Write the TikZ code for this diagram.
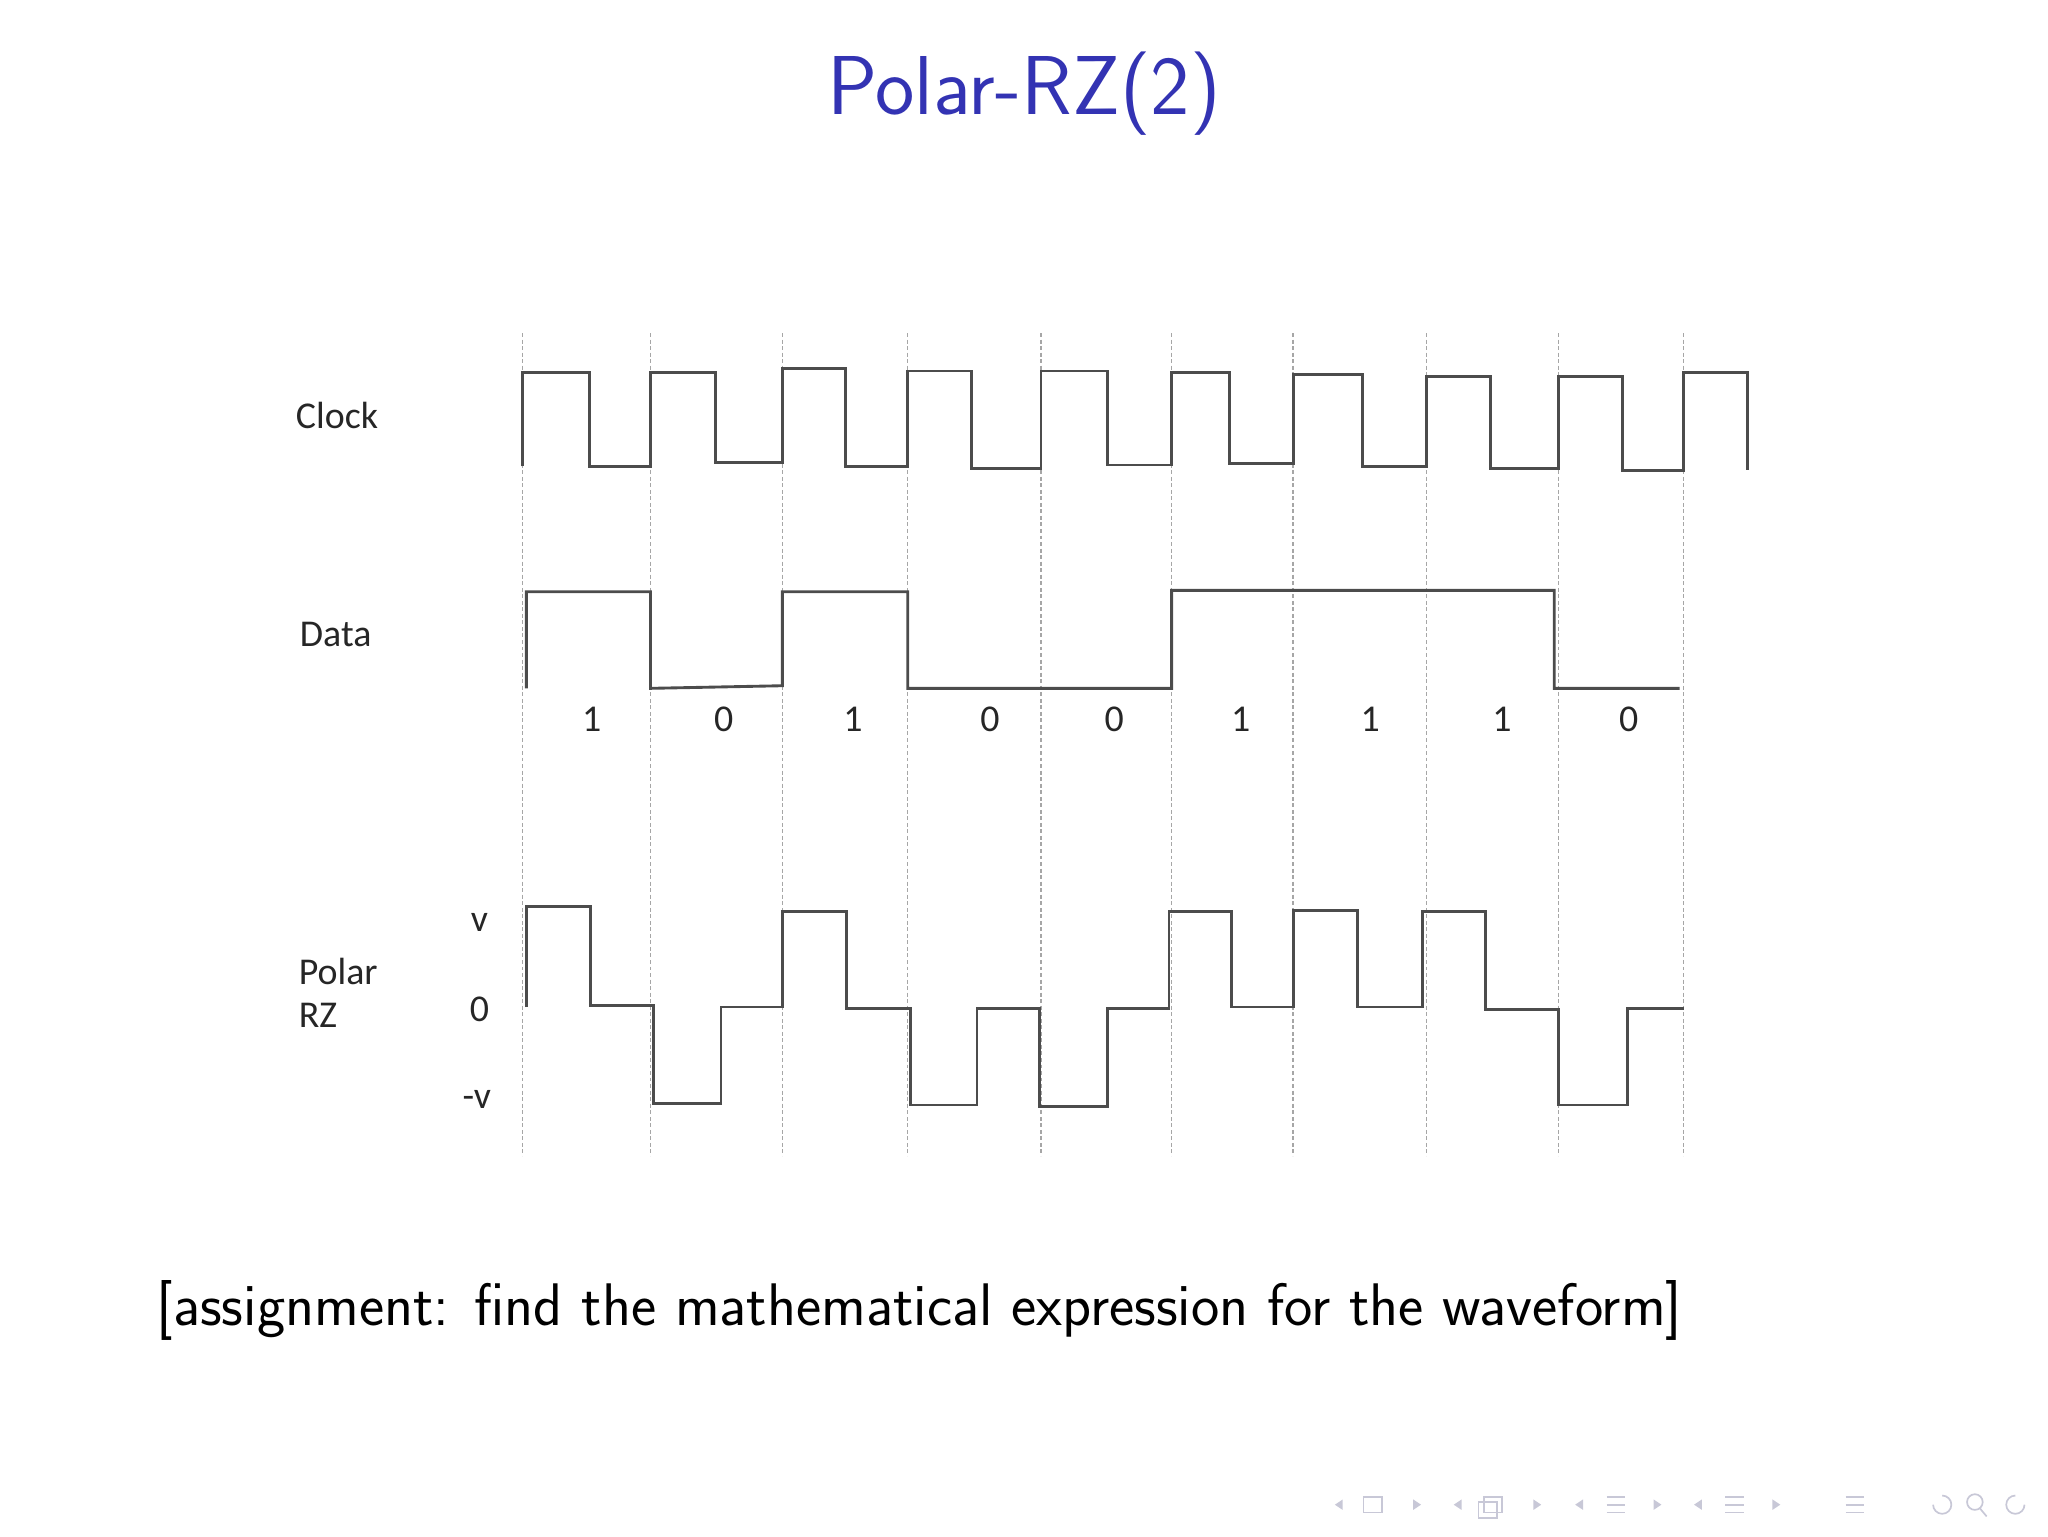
\documentclass[tikz,border=0pt]{standalone}
\usepackage{fontspec}
\newfontfamily\lab{Carlito}
\definecolor{ttl}{RGB}{51,51,179}
\definecolor{nav}{RGB}{200,200,215}
\tikzset{wave/.style={line width=2.2pt,draw=black!70},
 grid/.style={densely dashed,draw=black!35,line width=1pt},
 lbl/.style={font=\lab\fontsize{29}{33}\selectfont,text=black!85},
 navs/.style={draw=nav,line width=1.3pt}}
\begin{document}
\begin{tikzpicture}[x=1pt,y=-1pt]
\useasboundingbox (0,0) rectangle (1568,1176);
\node (title) at (784,72) {\sffamily\fontsize{64}{68}\selectfont\color{ttl}Polar-RZ(2)};
\foreach \x [count=\i] in {400,498,599,695,797,897,990,1092,1193,1289}
  \draw[grid] (\x,255) coordinate (gt\i) -- (\x,885) coordinate (gb\i);
% clock
\draw[wave] (400,357) -- (400,285) -- (451,285) -- (451,357) -- (498,357)
 -- (498,285) -- (548,285) -- (548,354) -- (599,354)
 -- (599,282) -- (647,282) -- (647,357) -- (695,357)
 -- (695,284) -- (744,284) -- (744,359) -- (797,359)
 -- (797,284) -- (848,284) -- (848,356) -- (897,356)
 -- (897,285) -- (941,285) -- (941,355) -- (990,355)
 -- (990,287) -- (1043,287) -- (1043,357) -- (1092,357)
 -- (1092,288) -- (1141,288) -- (1141,359) -- (1193,359)
 -- (1193,288) -- (1242,288) -- (1242,360) -- (1289,360)
 -- (1289,285) -- (1338,285) -- (1338,360);
% data
\draw[wave] (403,527) -- (403,453) -- (498,453) -- (498,527) -- (599,525) -- (599,453)
 -- (695,453) -- (695,527) -- (897,527) -- (897,452) -- (1190,452) -- (1190,527) -- (1286,527);
\foreach \x/\b in {453/1,554/0,653/1,758/0,853/0,950/1,1049/1,1150/1,1247/0}
  \node[lbl] at (\x,551) {\b};
% polar RZ
\draw[wave] (403,771) -- (403,694) -- (452,694) -- (452,770) -- (500,770)
 -- (500,845) -- (552,845) -- (552,771) -- (599,771)
 -- (599,698) -- (648,698) -- (648,772) -- (697,772)
 -- (697,846) -- (748,846) -- (748,772) -- (796,772)
 -- (796,847) -- (848,847) -- (848,772) -- (895,772)
 -- (895,698) -- (943,698) -- (943,771) -- (990,771)
 -- (990,697) -- (1039,697) -- (1039,771) -- (1089,771)
 -- (1089,698) -- (1137,698) -- (1137,773) -- (1193,773)
 -- (1193,846) -- (1246,846) -- (1246,772) -- (1289,772);
\node[lbl] (clk) at (258,318) {Clock};
\node[lbl] (dat) at (257,486) {Data};
\node[lbl,align=left] (prz) at (259,760) {Polar\\RZ};
\node[lbl] (vp) at (367,706) {v};
\node[lbl] (v0) at (367,773) {0};
\node[lbl] (vm) at (365,842) {-v};
\node (cap) at (704,1003) {\sffamily\fontsize{46}{50}\selectfont [assignment: find the mathematical expression for the waveform]};
% navigation symbols
\foreach \x in {1022,1113,1206,1297}{
  \fill[nav] (\x,1152) -- (\x+6,1148) -- (\x+6,1156) -- cycle;}
\foreach \x in {1082,1174,1266,1357}{
  \fill[nav] (\x+6,1152) -- (\x,1148) -- (\x,1156) -- cycle;}
\draw[navs] (1044,1146) rectangle (1058,1158);
\draw[navs] (1132,1150) rectangle (1146,1162) (1136,1146) rectangle (1150,1158);
\foreach \x in {1230,1321,1413}
  \draw[navs] (\x,1146) -- (\x+14,1146) (\x,1152) -- (\x+14,1152) (\x,1158) -- (\x+14,1158);
\draw[navs] (1480,1152) arc (180:-90:7);
\draw[navs] (1512,1150) circle (6) (1516,1155) -- (1521,1161);
\draw[navs] (1550,1152) arc (0:270:7);
\end{tikzpicture}
\end{document}
